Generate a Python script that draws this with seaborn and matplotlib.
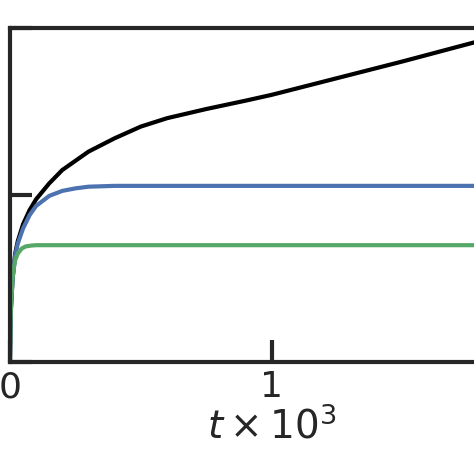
import numpy as np
import matplotlib
matplotlib.use("Agg")
import matplotlib.pyplot as plt
import seaborn as sns

# values (t in units of 10^3)
t_black = [0, 0.003, 0.01, 0.02, 0.03, 0.05, 0.075, 0.1, 0.15, 0.2, 0.3, 0.4, 0.5, 0.6, 0.75, 0.9, 1.0, 1.25, 1.5, 1.8, 2.0]
y_black = [0, 0.6, 1.0, 1.3, 1.45, 1.65, 1.82, 1.95, 2.14, 2.3, 2.52, 2.68, 2.82, 2.92, 3.03, 3.13, 3.2, 3.4, 3.6, 3.85, 4.0]
t_blue = [0, 0.003, 0.01, 0.02, 0.03, 0.05, 0.075, 0.1, 0.15, 0.2, 0.25, 0.3, 0.4, 0.5, 1.0, 2.0]
y_blue = [0, 0.6, 1.0, 1.28, 1.42, 1.6, 1.76, 1.87, 1.99, 2.05, 2.08, 2.1, 2.11, 2.11, 2.11, 2.11]
t_green = [0, 0.002, 0.005, 0.01, 0.015, 0.02, 0.03, 0.045, 0.06, 0.08, 0.1, 0.2, 2.0]
y_green = [0, 0.45, 0.75, 1.0, 1.13, 1.22, 1.3, 1.36, 1.385, 1.395, 1.40, 1.40, 1.40]

sns.set_theme(style="ticks")
fig = plt.figure(figsize=(4.74, 4.74), dpi=100)
ax = fig.add_axes([0.021, 0.236, 1.105, 0.705])

sns.lineplot(x=t_black, y=y_black, color="black", lw=3, ax=ax)
sns.lineplot(x=t_blue, y=y_blue, color="#4c72b0", lw=3, ax=ax)
sns.lineplot(x=t_green, y=y_green, color="#55a868", lw=3, ax=ax)

ax.set_xlim(0, 2)
ax.set_ylim(0, 4)
ax.set_xticks([0, 1])
ax.set_yticks([0, 2, 4])
ax.tick_params(direction="in", length=16, width=3, labelsize=26, color="#262626", pad=6)
for s in ax.spines.values():
    s.set_linewidth(3)
    s.set_color("#262626")
ax.set_xlabel(r"$t \times 10^3$", fontsize=28, labelpad=2)

fig.savefig("out.png", dpi=100)
